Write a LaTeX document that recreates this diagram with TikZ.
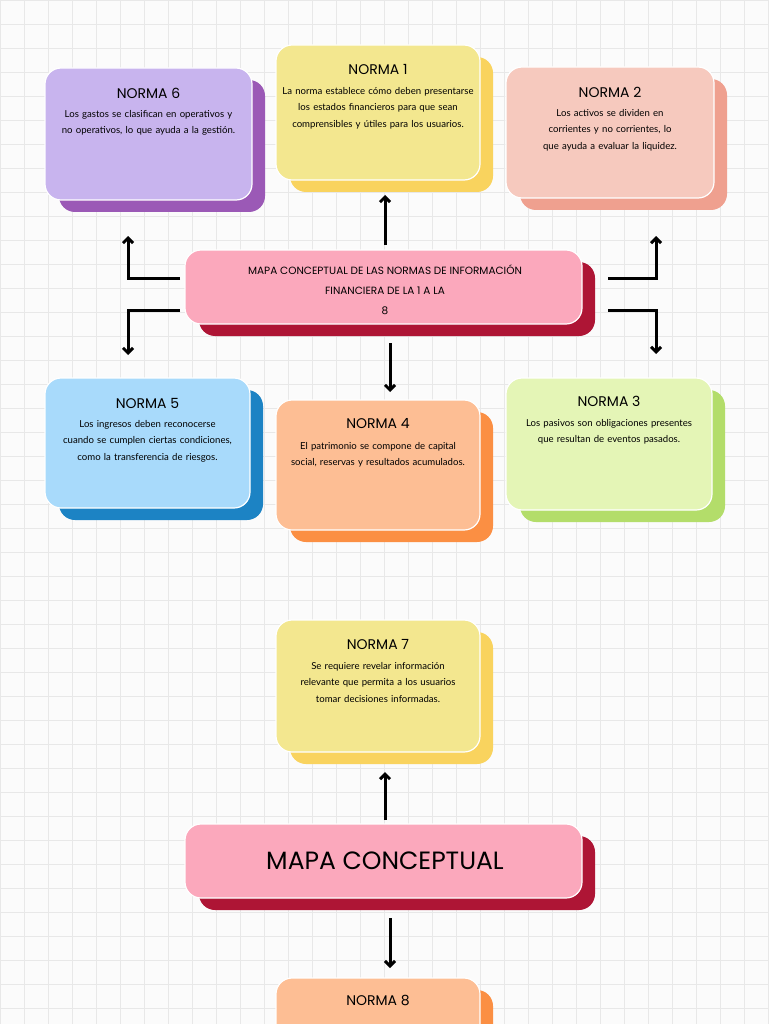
\documentclass[tikz,border=0pt]{standalone}
\usepackage{fontspec}
\setmainfont{Lato}
\newfontfamily\titlefont{Poppins}
\usetikzlibrary{arrows.meta}
\begin{document}
\begin{tikzpicture}[x=1pt,y=-1pt,
  face/.style={rounded corners=16pt, draw=white, line width=1.2pt},
  shad/.style={rounded corners=16pt},
  ttl/.style={font=\titlefont\fontsize{14}{16}\selectfont, text=black},
  body/.style={font=\fontsize{9.6}{16.5}\selectfont, align=center, text width=192pt, text=black, inner sep=0pt,
     execute at begin node={\hyphenpenalty=10000\exhyphenpenalty=10000}},
  arr/.style={line width=3pt, -{Straight Barb[length=5pt,width=10pt]}}]
\definecolor{purF}{HTML}{C8B4EE}\definecolor{purS}{HTML}{9B59B6}
\definecolor{yelF}{HTML}{F3E78F}\definecolor{yelS}{HTML}{F9D35E}
\definecolor{salF}{HTML}{F6C9BE}\definecolor{salS}{HTML}{EFA08F}
\definecolor{pinF}{HTML}{FBA8BC}\definecolor{pinS}{HTML}{AE1535}
\definecolor{bluF}{HTML}{A8DAFB}\definecolor{bluS}{HTML}{1C83C4}
\definecolor{orF}{HTML}{FDBE94}\definecolor{orS}{HTML}{FB8F43}
\definecolor{grF}{HTML}{E4F5B6}\definecolor{grS}{HTML}{B3DD6A}
\useasboundingbox (0,0) rectangle (768,1024);
\fill[white!97!gray] (0,0) rectangle (768,1024);
\foreach \i in {0,24,...,1032} {
  \draw[gray!18, line width=0.4pt] (\i,0) -- (\i,1024);
  \draw[gray!18, line width=0.4pt] (0,\i) -- (768,\i);}
\clip (0,0) rectangle (768,1024);
\newcommand\mybox[7]{%
  \fill[shad,#7] (#2+14,#3+12) rectangle (#4+13,#5+12);
  \filldraw[face,fill=#6] (#2,#3) rectangle (#4,#5);
  \coordinate (#1) at ({(#2+#4)/2},#3);}
\mybox{n6}{45}{68}{252}{200}{purF}{purS}
\mybox{n1}{276}{45}{480}{180}{yelF}{yelS}
\mybox{n2}{506}{67}{714}{198}{salF}{salS}
\mybox{c}{185}{250}{582}{324}{pinF}{pinS}
\mybox{n5}{45}{378}{250}{508}{bluF}{bluS}
\mybox{n4}{276}{400}{480}{530}{orF}{orS}
\mybox{n3}{506}{378}{712}{510}{grF}{grS}
\mybox{n7}{276}{620}{480}{752}{yelF}{yelS}
\mybox{m}{185}{824}{582}{898}{pinF}{pinS}
\mybox{n8}{276}{978}{480}{1060}{orF}{orS}
\node[ttl] (t6) at ([yshift=-25]n6) {NORMA 6};
\node[body,anchor=north] (b6) at ([yshift=-42]n6) {Los gastos se clasifican en operativos y no operativos, lo que ayuda a la gestión.};
\node[ttl] (t1) at ([yshift=-24]n1) {NORMA 1};
\node[body,anchor=north] (b1) at ([yshift=-42]n1) {La norma establece cómo deben presentarse los estados financieros para que sean comprensibles y útiles para los usuarios.};
\node[ttl] (t2) at ([yshift=-25]n2) {NORMA 2};
\node[body,anchor=north] (b2) at ([yshift=-42]n2) {Los activos se dividen en corrientes y no corrientes, lo que ayuda a evaluar la liquidez.};
\node[font=\titlefont\fontsize{10.5}{20}\selectfont, align=center] (tc) at (385,290) {MAPA CONCEPTUAL DE LAS NORMAS DE INFORMACIÓN\\FINANCIERA DE LA 1 A LA\\8};
\node[ttl] (t5) at ([yshift=-25]n5) {NORMA 5};
\node[body,anchor=north,text width=170pt] (b5) at ([yshift=-42]n5) {Los ingresos deben reconocerse cuando se cumplen ciertas condiciones, como la transferencia de riesgos.};
\node[ttl] (t4) at ([yshift=-24]n4) {NORMA 4};
\node[body,anchor=north] (b4) at ([yshift=-42]n4) {El patrimonio se compone de capital social, reservas y resultados acumulados.};
\node[ttl] (t3) at ([yshift=-23]n3) {NORMA 3};
\node[body,anchor=north,text width=175pt] (b3) at ([yshift=-41]n3) {Los pasivos son obligaciones presentes que resultan de eventos pasados.};
\node[ttl] (t7) at ([yshift=-24]n7) {NORMA 7};
\node[body,anchor=north,text width=185pt] (b7) at ([yshift=-42]n7) {Se requiere revelar información relevante que permita a los usuarios tomar decisiones informadas.};
\node[font=\titlefont\fontsize{25}{30}\selectfont] (tm) at (385,861) {MAPA CONCEPTUAL};
\node[ttl] (t8) at ([yshift=-22]n8) {NORMA 8};
\coordinate (a1s) at (385,245); \coordinate (a1e) at (385,195);
\draw[arr] (a1s) -- (a1e);
\coordinate (a4s) at (390,343); \coordinate (a4e) at (390,392);
\draw[arr] (a4s) -- (a4e);
\coordinate (l1) at (180,278); \coordinate (l1e) at (128,236);
\draw[arr] (l1) -| (l1e);
\coordinate (l2) at (180,310); \coordinate (l2e) at (128,355);
\draw[arr] (l2) -| (l2e);
\coordinate (r1) at (608,278); \coordinate (r1e) at (656,236);
\draw[arr] (r1) -| (r1e);
\coordinate (r2) at (608,310); \coordinate (r2e) at (656,354);
\draw[arr] (r2) -| (r2e);
\coordinate (a7s) at (385,820); \coordinate (a7e) at (385,772);
\draw[arr] (a7s) -- (a7e);
\coordinate (a8s) at (390,918); \coordinate (a8e) at (390,968);
\draw[arr] (a8s) -- (a8e);
\end{tikzpicture}
\end{document}
